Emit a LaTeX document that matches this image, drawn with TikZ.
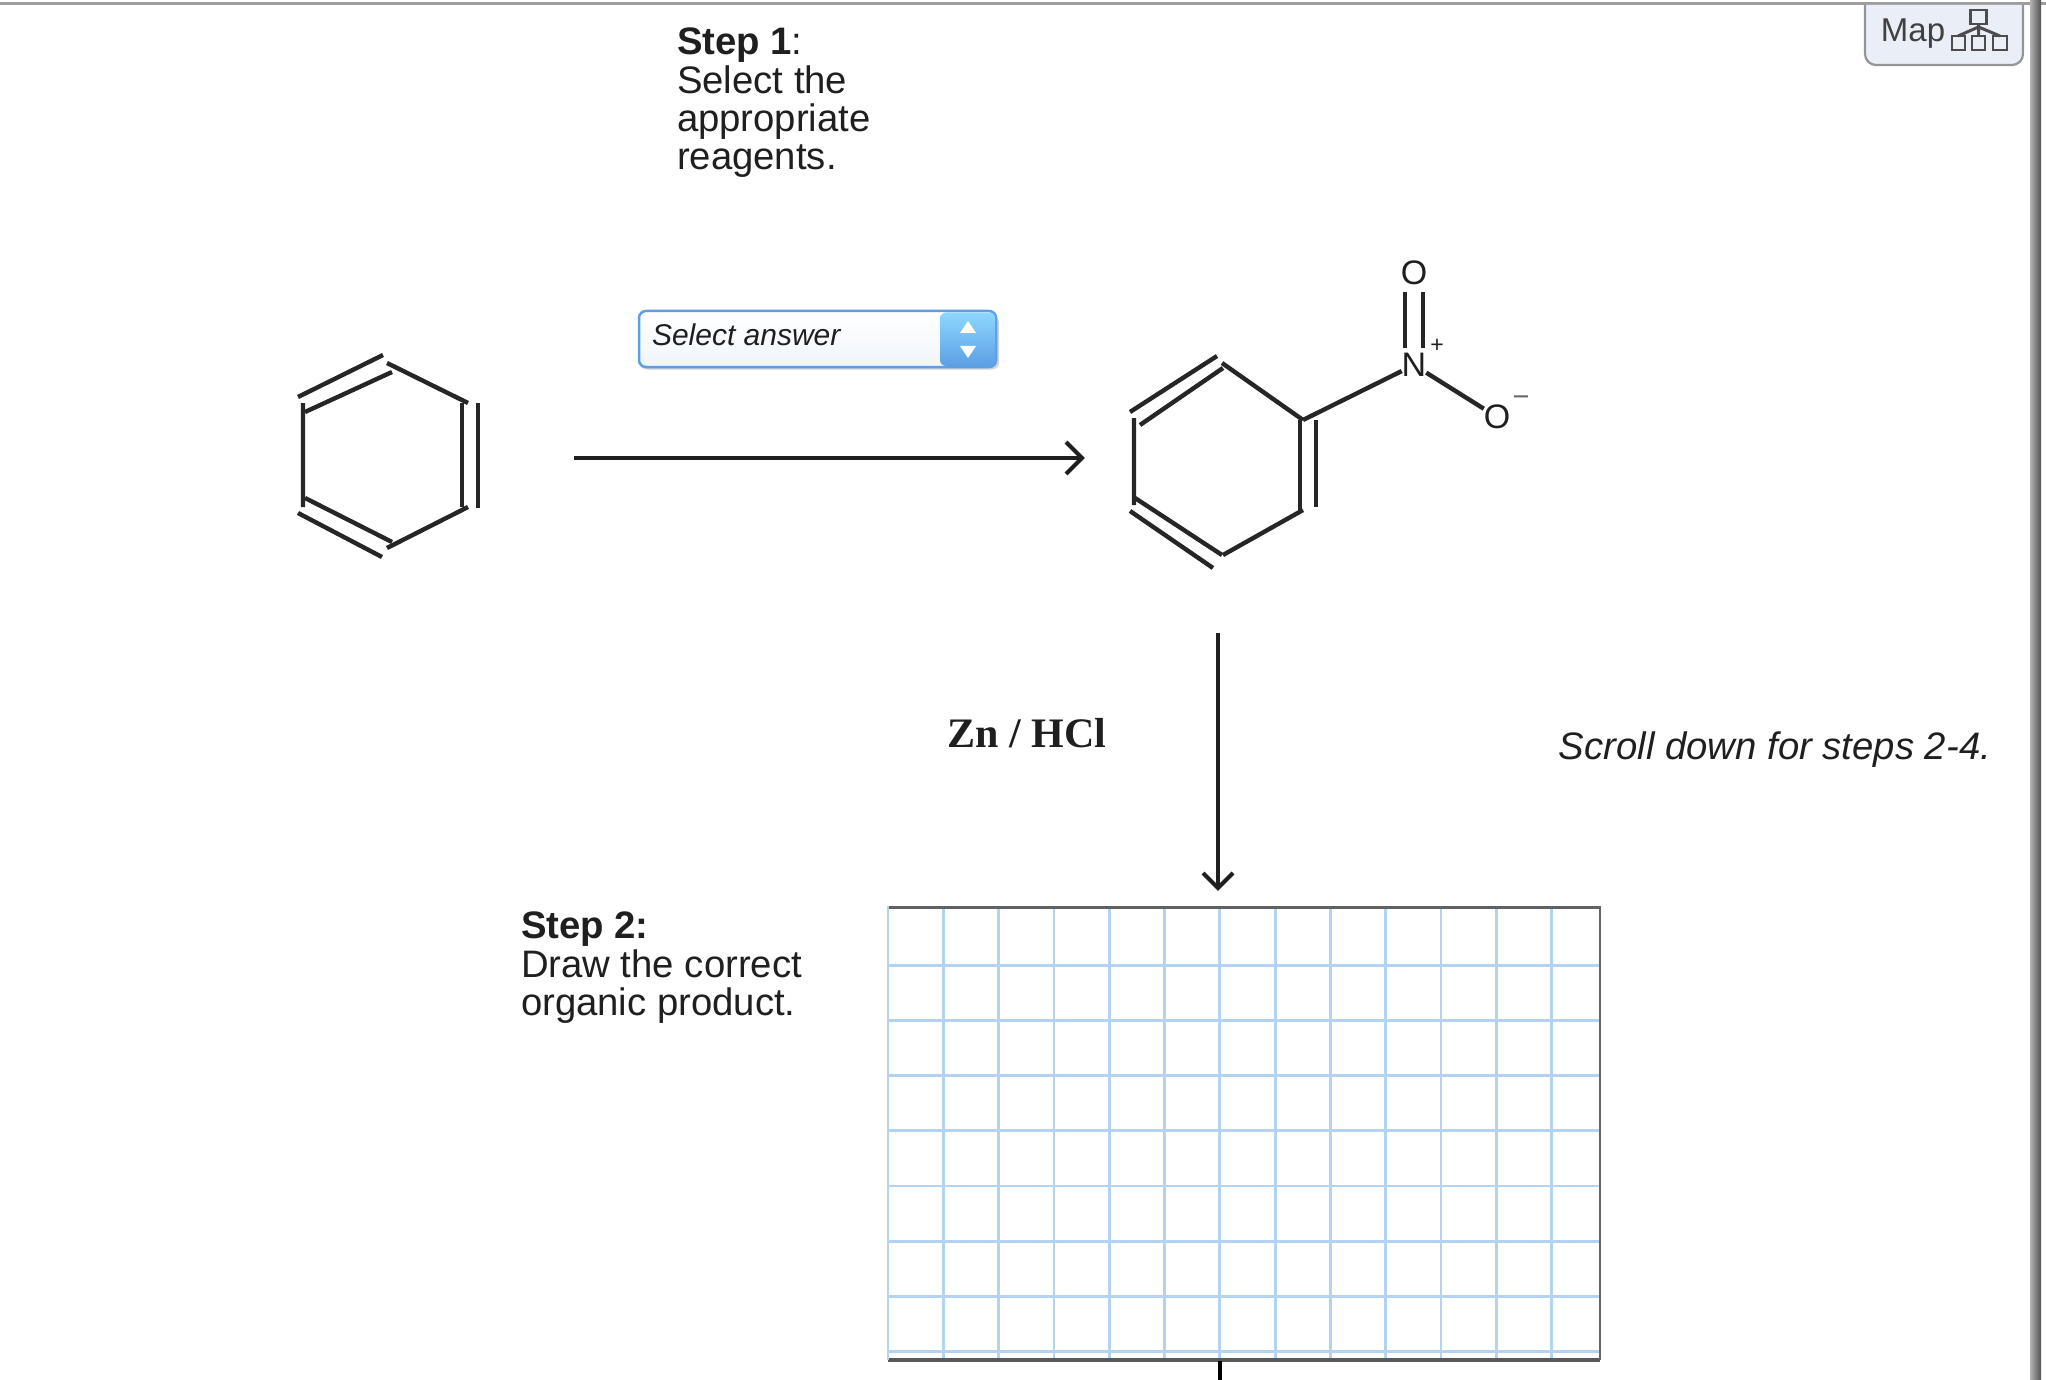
\documentclass[tikz,border=0pt]{standalone}
\usepackage{fontspec}
\setmainfont{Liberation Sans}
\newfontfamily\serifb{Liberation Serif}
\definecolor{gridc}{HTML}{B4D2F2}
\definecolor{selb}{HTML}{5C9FE4}
\definecolor{mapf}{HTML}{E9EEF7}
\definecolor{selbot}{HTML}{F0F5FC}
\tikzset{
 bond/.style={line width=4.4pt,black!85},
 arr/.style={line width=4.2pt,black!88},
 lbl/.style={inner sep=0pt,outer sep=0pt,text=black!88},
 txt/.style={lbl,anchor=north west,font=\fontsize{38.3pt}{38.3pt}\selectfont,align=left},
 atom/.style={lbl,font=\fontsize{34pt}{34pt}\selectfont},
 gridline/.style={line width=2.8pt,color=gridc}
}
\begin{document}
\begin{tikzpicture}[x=1pt,y=-1pt]
\useasboundingbox (0,0) rectangle (2046,1380);
% window frame
\fill[black!38] (0,2.5) rectangle (2046,5.5);
\shade[left color=black!30,right color=black!68] (2030,0) rectangle (2041,1380);
% Map button
\draw[draw=black!42,line width=2.2pt,fill=mapf,rounded corners=11pt] (1865,5) -- (1865,65) -- (2023,65) -- (2023,5);
\node[lbl,font=\fontsize{33pt}{33pt}\selectfont,text=black!75] (maplbl) at (1913,34) {Map};
\foreach \x/\y/\w in {1958.5/43/6.5,1978.5/43/6.5,2000/43/7,1978.5/17/8}{\draw[line width=2.6pt,black!70] (\x-\w,\y-7) rectangle (\x+\w,\y+7);}
\draw[line width=3pt,black!70] (1958,36) -- (1978.5,27) -- (2000,36) (1978.5,25) -- (1978.5,36);
% texts
\node[txt] (s1) at (677,28) {\textbf{Step 1}:\\Select the\\appropriate\\reagents.};
\node[txt] (s2) at (521,912) {\textbf{Step 2:}\\Draw the correct\\organic product.};
\node[lbl,anchor=east,font=\fontsize{38.3pt}{38.3pt}\itshape] (scroll) at (1991,750) {Scroll down for steps 2-4.};
\node[lbl,font=\fontsize{42pt}{42pt}\serifb\bfseries] (zn) at (1027,733) {Zn / HCl};
% select
\fill[black!18,rounded corners=7pt] (640,316) rectangle (999,369.5);
\draw[selb,line width=2.5pt,rounded corners=7pt,top color=white,bottom color=selbot] (639,311) rectangle (996,367);
\shade[top color=blue!35!cyan!45!white,bottom color=selb,rounded corners=6pt] (940,312.5) rectangle (995,366);
\node[lbl,anchor=west,font=\fontsize{30pt}{30pt}\itshape] (seltxt) at (652,335) {Select answer};
\fill[white] (968,321) -- (960,333) -- (976,333) -- cycle;
\fill[white] (968,358) -- (960,346) -- (976,346) -- cycle;
% benzene
\coordinate (a1) at (387,363);
\coordinate (a2) at (468,403);
\coordinate (a3) at (468,507);
\coordinate (a4) at (387,548);
\coordinate (a5) at (303,507);
\coordinate (a6) at (303,403);
\draw[bond] (a1)--(a2) (a3)--(a4) (a6)--(a5);
\draw[bond] (462,403)--(462,507) (478,403)--(478,508);
\draw[bond] (305,498)--(392,542) (298,513)--(382,557);
\draw[bond] (305,412)--(392,372) (298,397)--(383,355);
% nitrobenzene
\coordinate (b1) at (1222,363);
\coordinate (b2) at (1303,420);
\coordinate (b3) at (1303,510);
\coordinate (b4) at (1223,555);
\coordinate (b5) at (1134,505);
\coordinate (b6) at (1134,418);
\draw[bond] (b1)--(b2) (b3)--(b4) (b5)--(b6);
\draw[bond] (1300,420)--(1300,510) (1316,420)--(1316,507);
\draw[bond] (1135,498)--(1222,555) (1130,511)--(1213,568);
\draw[bond] (1140,425)--(1223,368) (1130,412)--(1217,356);
\node[atom] (n) at (1414,365) {N};
\node[atom] (o1) at (1414,273) {O};
\node[atom] (o2) at (1497,417) {O};
\node[lbl,font=\fontsize{23pt}{23pt}\selectfont] (plus) at (1437,346) {+};
\node[lbl,font=\fontsize{29pt}{29pt}\selectfont,text=black!60] (minus) at (1521,401) {\textminus};
\draw[bond] (b2)--(n);
\draw[bond] (1405,292)--(1405,348) (1423,292)--(1423,348);
\draw[bond] (n)--(o2);
% arrows
\coordinate (h1) at (574,458);
\coordinate (h2) at (1080,458);
\draw[arr] (h1)--(h2);
\draw[arr] (1066,442)--(1082,458)--(1066,474);
\coordinate (v1) at (1218,633);
\coordinate (v2) at (1218,888);
\draw[arr] (v1)--(v2);
\draw[arr] (1203,873)--(1218,888)--(1233,873);
% grid
\foreach \i in {1,...,12}{\draw[gridline] ({888+55.3*\i},907) -- ({888+55.3*\i},1360);}
\foreach \j in {1,...,8}{\draw[gridline] (888,{910+55.2*\j}) -- (1600,{910+55.2*\j});}
\draw[line width=3pt,black!62] (888,907) -- (1600,907);
\draw[line width=3.2pt,black!65] (888,1360) -- (1600,1360);
\draw[line width=2.6pt,black!60] (1600,906) -- (1600,1360);
\draw[gridline] (888,906) -- (888,1360);
\draw[line width=3.8pt,black] (1220,1361) -- (1220,1380);
\end{tikzpicture}
\end{document}
